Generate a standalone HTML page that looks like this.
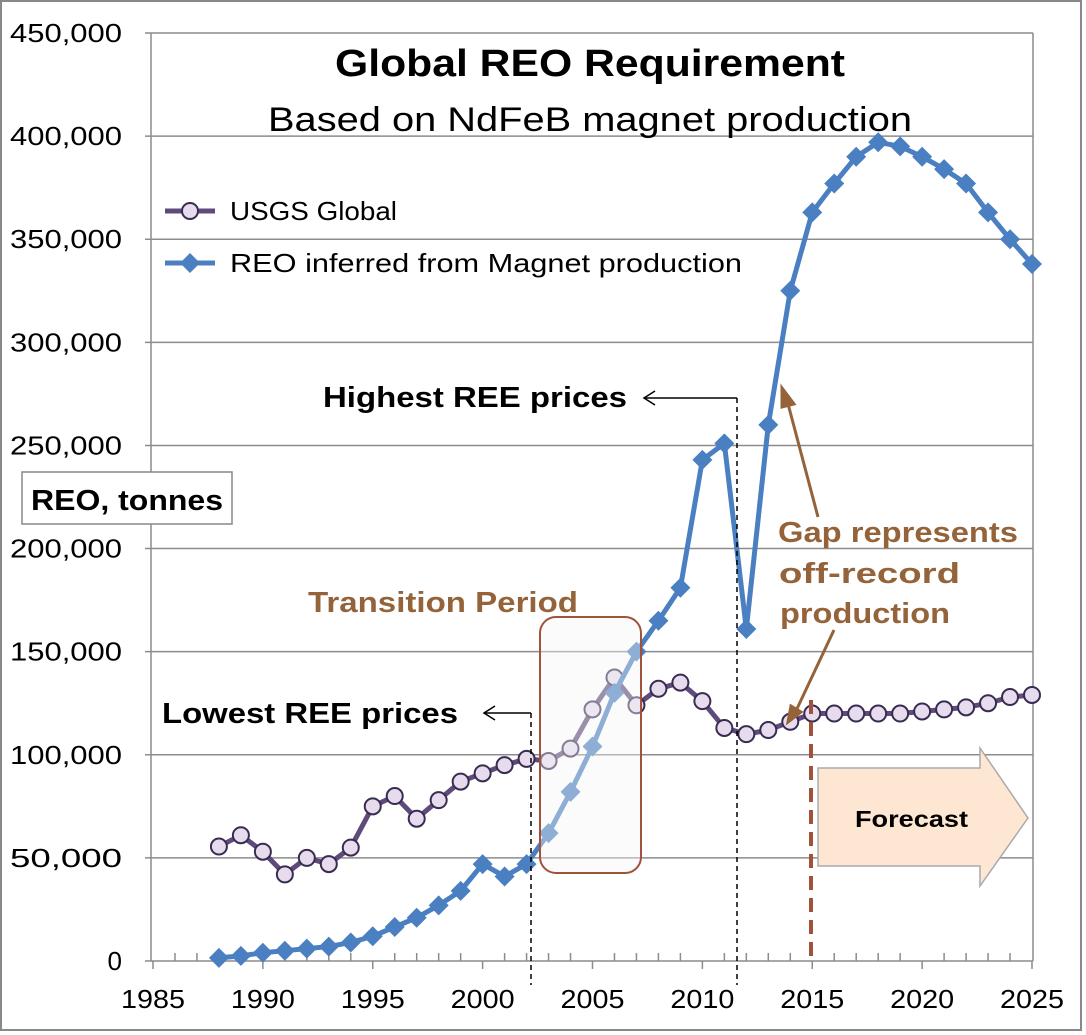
<!DOCTYPE html>
<html><head><meta charset="utf-8"><style>
html,body{margin:0;padding:0;background:#fff}
svg{display:block}
text{font-family:"Liberation Sans",sans-serif}
</style></head><body>
<svg id="s" width="1086" height="1035" xmlns="http://www.w3.org/2000/svg">
<rect x="1" y="1" width="1080" height="1029" fill="#fff" stroke="#888" stroke-width="2"/>
<g id="grid" stroke="#8c8c8c" stroke-width="1.5"></g>
<g font-size="26" fill="#000" text-anchor="end" id="ylab"></g>
<g font-size="26" fill="#000" text-anchor="middle" id="xlab"></g>
<g id="series"></g>
<rect x="540" y="617" width="101" height="256" rx="16" fill="#f4f4f6" fill-opacity="0.4" stroke="#a0523a" stroke-width="2"/>
<line x1="811" y1="700" x2="811" y2="961" stroke="#a0523a" stroke-width="4" stroke-dasharray="14,8"/>
<line x1="531" y1="713" x2="531" y2="985" stroke="#000" stroke-width="1.5" stroke-dasharray="5,4"/>
<line x1="737" y1="398" x2="737" y2="985" stroke="#000" stroke-width="1.5" stroke-dasharray="5,4"/>
<line x1="531" y1="713" x2="485" y2="713" stroke="#000" stroke-width="1.5"/>
<path d="M495,706 L484,713 L495,720" fill="none" stroke="#000" stroke-width="1.5"/>
<line x1="737" y1="398" x2="645" y2="398" stroke="#000" stroke-width="1.5"/>
<path d="M655,391 L644,398 L655,405" fill="none" stroke="#000" stroke-width="1.5"/>
<path d="M818,768 L980,768 L980,748 L1028,818 L980,886 L980,866 L818,866 Z" fill="#fde6d2" stroke="#aaa" stroke-width="1.5"/>
<text x="855" y="827" font-size="23" font-weight="bold" textLength="113" lengthAdjust="spacingAndGlyphs">Forecast</text>
<text x="335" y="76" font-size="38" font-weight="bold" textLength="510" lengthAdjust="spacingAndGlyphs">Global REO Requirement</text>
<text x="268" y="131" font-size="34" textLength="644" lengthAdjust="spacingAndGlyphs">Based on NdFeB magnet production</text>
<rect x="22" y="472" width="210" height="52" fill="#fff" stroke="#888" stroke-width="1.5"/>
<text x="31" y="510" font-size="29" font-weight="bold" textLength="192" lengthAdjust="spacingAndGlyphs">REO, tonnes</text>
<text x="323" y="407" font-size="29" font-weight="bold" textLength="304" lengthAdjust="spacingAndGlyphs">Highest REE prices</text>
<text x="162" y="723" font-size="29" font-weight="bold" textLength="296" lengthAdjust="spacingAndGlyphs">Lowest REE prices</text>
<text x="308" y="612" font-size="29" font-weight="bold" fill="#94633a" textLength="270" lengthAdjust="spacingAndGlyphs">Transition Period</text>
<g font-size="29" font-weight="bold" fill="#94633a">
<text x="778" y="542" textLength="240" lengthAdjust="spacingAndGlyphs">Gap represents</text>
<text x="779" y="583" textLength="181" lengthAdjust="spacingAndGlyphs">off-record</text>
<text x="780" y="623" textLength="170" lengthAdjust="spacingAndGlyphs">production</text></g>
<g stroke="#94633a" stroke-width="3" fill="#94633a">
<line x1="818" y1="517" x2="787" y2="400"/><path d="M782,388 L794,404 L782,407 Z"/>
<line x1="834" y1="630" x2="795" y2="713"/><path d="M788,722 L791,706 L801,712 Z"/></g>
<line x1="165" y1="211" x2="215" y2="211" stroke="#5f4b7b" stroke-width="5"/>
<circle cx="190" cy="211" r="8" fill="#e6dcee" stroke="#3a2c50" stroke-width="2"/>
<text x="230" y="220" font-size="26" textLength="167" lengthAdjust="spacingAndGlyphs">USGS Global</text>
<line x1="165" y1="263" x2="215" y2="263" stroke="#4a7fc1" stroke-width="5"/>
<path d="M190,253 L200,263 L190,273 L180,263 Z" fill="#4a7fc1"/>
<text x="230" y="272" font-size="26" textLength="512" lengthAdjust="spacingAndGlyphs">REO inferred from Magnet production</text>
</svg>
<script>
const NS="http://www.w3.org/2000/svg";
const X=y=>153+(y-1985)*21.975, Y=v=>961-v*928/450;
function el(p,t,a){const e=document.createElementNS(NS,t);for(const k in a)e.setAttribute(k,a[k]);p.appendChild(e);return e;}
const g=document.getElementById('grid'),yl=document.getElementById('ylab'),xl=document.getElementById('xlab'),s=document.getElementById('series');
for(let v=0;v<=450;v+=50){el(g,'line',{x1:145,x2:1033,y1:Y(v),y2:Y(v)});const t=el(yl,'text',{x:122,y:Y(v)+9});if(v){t.setAttribute('textLength',112);t.setAttribute('lengthAdjust','spacingAndGlyphs');}t.textContent=v?(v+',000'):'0';}
el(g,'line',{x1:151,x2:151,y1:33,y2:961});el(g,'line',{x1:1033,x2:1033,y1:33,y2:961});
for(let y=1985;y<=2025;y++){el(g,'line',{x1:X(y),x2:X(y),y1:961,y2:y%5?953:969});if(y%5==0){const t=el(xl,'text',{x:X(y),y:1008,textLength:64,lengthAdjust:'spacingAndGlyphs'});t.textContent=y;}}
const u=[55.5,61,53,42,50,47,55,75,80,69,78,87,91,95,98,97,103,122,137.5,124,132,135,126,113,110,112,116,120,120,120,120,120,121,122,123,125,128,129];
const m=[1.5,2.5,4,5,6,7,9,12,16.5,21,27,34,47,41,47,62,82,104,130,150,165,181,243,251,161,260,325,363,377,390,397,395,390,384,377,363,350,338];
el(s,'polyline',{points:u.map((v,i)=>X(1988+i)+','+Y(v)).join(' '),fill:'none',stroke:'#5f4b7b','stroke-width':5,'stroke-linejoin':'round'});
u.forEach((v,i)=>el(s,'circle',{cx:X(1988+i),cy:Y(v),r:8,fill:'#e6dcee',stroke:'#3a2c50','stroke-width':2}));
el(s,'polyline',{points:m.map((v,i)=>X(1988+i)+','+Y(v)).join(' '),fill:'none',stroke:'#4a7fc1','stroke-width':5,'stroke-linejoin':'round'});
m.forEach((v,i)=>{const x=X(1988+i),y=Y(v);el(s,'path',{d:`M${x},${y-10}L${x+10},${y}L${x},${y+10}L${x-10},${y}Z`,fill:'#4a7fc1'});});
</script>
</body></html>
